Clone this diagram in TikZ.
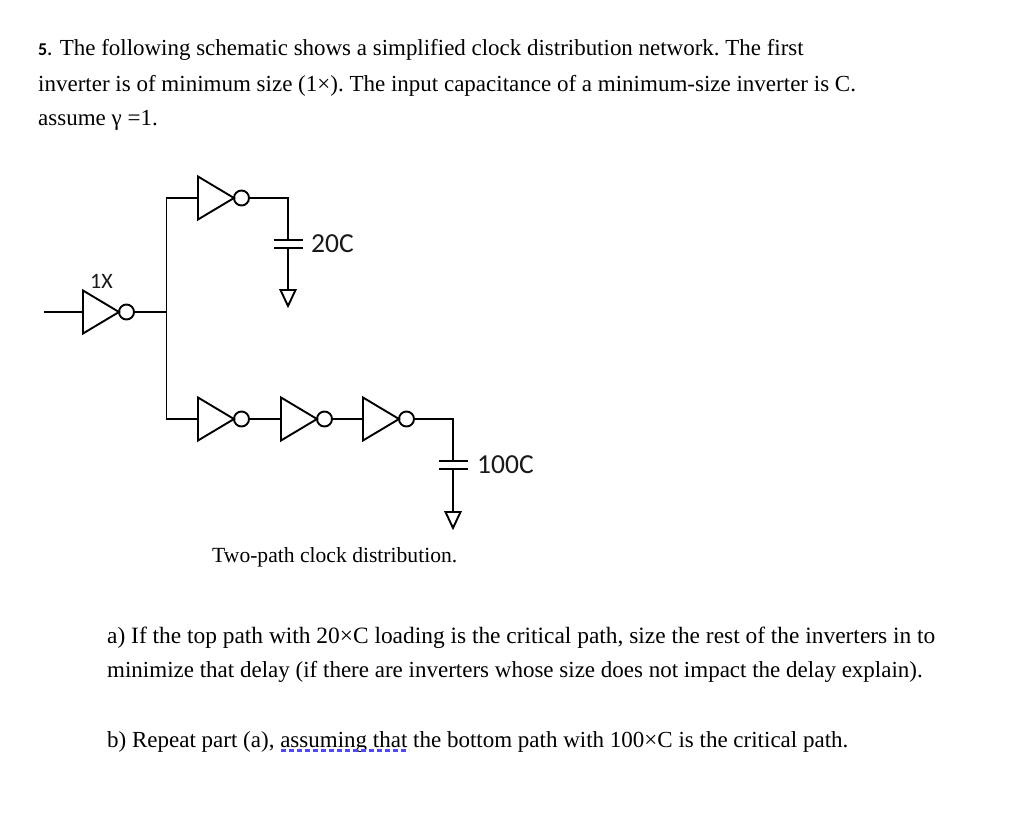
\documentclass[tikz,border=0pt]{standalone}
\usepackage{fontspec}
\setmainfont{Liberation Serif}
\newfontfamily\calfont{Carlito}
\usetikzlibrary{shapes.geometric}
\definecolor{squig}{RGB}{80,75,235}
\tikzset{
  wire/.style={line width=1.9pt,line join=miter},
  invbody/.style={draw,line width=1.9pt,isosceles triangle,isosceles triangle stretches,minimum width=43pt,minimum height=36pt,inner sep=0pt,outer sep=0pt,anchor=lower side},
  bubble/.style={draw,line width=1.9pt,circle,minimum size=15pt,inner sep=0pt,outer sep=0pt,anchor=west},
  gnd/.style={draw,line width=1.9pt,isosceles triangle,isosceles triangle stretches,shape border rotate=-90,minimum width=15pt,minimum height=16pt,inner sep=0pt,outer sep=0pt,anchor=lower side},
  plate/.style={line width=2pt},
  para/.style={anchor=base west,inner sep=0pt,font=\frenchspacing\fontsize{23}{23}\selectfont,text=black},
  schem/.style={anchor=base west,inner sep=0pt,font=\calfont\fontsize{27.5}{27.5}\selectfont,text=black!90},
}
\begin{document}
\begin{tikzpicture}[x=1pt,y=-1pt]
\useasboundingbox (0,0) rectangle (1020,836);
% paragraph text
\node[para,font=\frenchspacing\fontsize{22.95}{23}\selectfont] (t1) at (38,55) {{\calfont\bfseries\fontsize{18}{18}\selectfont 5.}\kern2pt{} The following schematic shows a simplified clock distribution network. The first};
\node[para] (t2) at (38,91) {inverter is of minimum size (1×). The input capacitance of a minimum-size inverter is C.};
\node[para] (t3) at (38,125) {assume γ =1.};
\node[para,font=\frenchspacing\fontsize{23.4}{23.4}\selectfont] (t4) at (107,643) {a) If the top path with 20×C loading is the critical path, size the rest of the inverters in to};
\node[para] (t5) at (107,677) {minimize that delay (if there are inverters whose size does not impact the delay explain).};
\node[para] (t6) at (107,747) {b) Repeat part (a), assuming that the bottom path with 100×C is the critical path.};
\node[para,font=\frenchspacing\fontsize{21.6}{21.6}\selectfont] (cap) at (212,562) {Two-path clock distribution.};
\coordinate (sqa) at (281,750.5);
\coordinate (sqb) at (409,750.5);
\draw[line width=2.4pt,color=squig,dash pattern=on 5pt off 3pt] (sqa) -- (sqb);
% inverters
\node[invbody] (i0) at (83,312) {};
\node[bubble] (b0) at (i0.apex) {};
\node[invbody] (i1) at (198,198) {};
\node[bubble] (b1) at (i1.apex) {};
\node[invbody] (i2) at (198,419) {};
\node[bubble] (b2) at (i2.apex) {};
\node[invbody] (i3) at (281,419) {};
\node[bubble] (b3) at (i3.apex) {};
\node[invbody] (i4) at (363,419) {};
\node[bubble] (b4) at (i4.apex) {};
% free coordinates
\coordinate (in) at (44,312);
\coordinate (junc) at (166.5,312);
\coordinate (capa1) at (288,240);
\coordinate (capa2) at (288,248);
\coordinate (capb1) at (453,461);
\coordinate (capb2) at (453,469);
\node[gnd] (g1) at (288,290) {};
\node[gnd] (g2) at (453,512) {};
% connectors
\draw[wire] (in) -- (i0.lower side);
\draw[wire] (b0.east) -- (junc);
\draw[wire] (i1.lower side) -| (junc);
\draw[wire] (i2.lower side) -| (junc);
\draw[wire] (b2.east) -- (i3.lower side);
\draw[wire] (b3.east) -- (i4.lower side);
\draw[wire] (b1.east) -| (capa1);
\draw[wire] (b4.east) -| (capb1);
\draw[wire] (capa2) -- (g1.lower side);
\draw[wire] (capb2) -- (g2.lower side);
% capacitor plates
\draw[plate] ([xshift=-14.5pt]capa1) -- ([xshift=15pt]capa1);
\draw[plate] ([xshift=-14.5pt]capa2) -- ([xshift=15pt]capa2);
\draw[plate] ([xshift=-14.5pt]capb1) -- ([xshift=14.5pt]capb1);
\draw[plate] ([xshift=-14.5pt]capb2) -- ([xshift=14.5pt]capb2);
% labels
\node[schem] (l0) at (90,288) {\fontsize{22}{22}\selectfont 1X};
\node[schem] (l1) at (311,252) {20C};
\node[schem] (l2) at (477,473) {100C};
\end{tikzpicture}
\end{document}
